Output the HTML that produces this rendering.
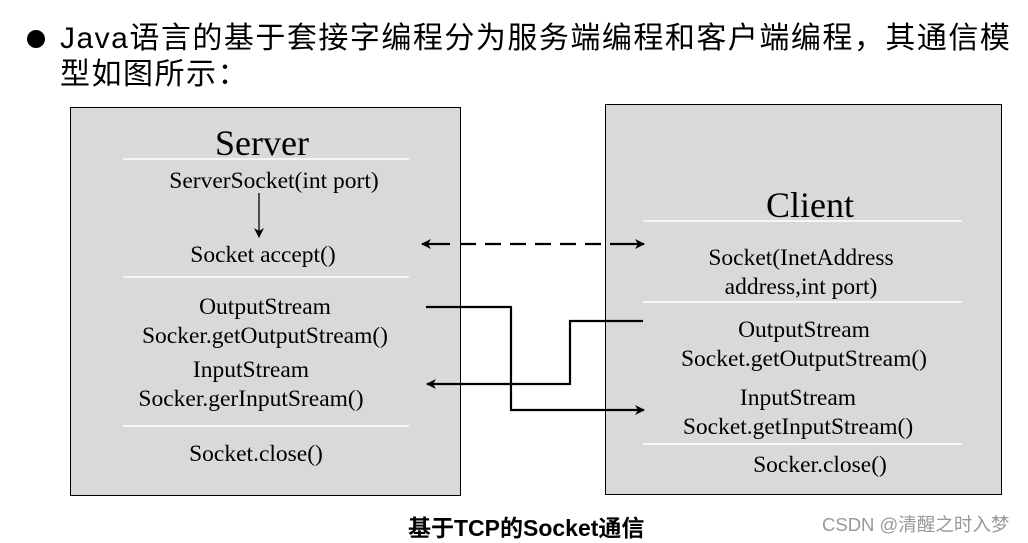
<!DOCTYPE html>
<html><head><meta charset="utf-8"><style>
body{margin:0;width:1028px;height:543px;background:#fff;position:relative;overflow:hidden}
.t{position:absolute;font-family:"Liberation Serif",serif;color:#000;white-space:nowrap;text-align:center;font-size:23.5px;line-height:29px}
</style></head><body>
<div style="position:absolute;left:27px;top:30px;width:18px;height:18px;border-radius:50%;background:#000"></div>
<div style="position:absolute;left:60px;top:21px;font-family:'Liberation Sans','Noto Sans CJK SC',sans-serif;font-size:30px;line-height:36px;letter-spacing:1.5px;color:#000;white-space:nowrap">Java语言的基于套接字编程分为服务端编程和客户端编程，其通信模<br>型如图所示：</div>
<svg width="1028" height="543" style="position:absolute;left:0;top:0">
<defs><marker id="a" markerWidth="10" markerHeight="10" refX="9" refY="5" orient="auto" markerUnits="userSpaceOnUse"><path d="M0,0 L10,5 L0,10 L3,5z" fill="#000"/></marker></defs>
<rect x="70.5" y="107.5" width="390" height="388" fill="#d9d9d9" stroke="#000" stroke-width="1"/>
<rect x="605.5" y="104.5" width="396" height="390" fill="#d9d9d9" stroke="#000" stroke-width="1"/>
<g stroke="#fff" stroke-width="1.5">
<line x1="123" y1="159" x2="409" y2="159"/><line x1="123" y1="277" x2="409" y2="277"/><line x1="123" y1="426" x2="409" y2="426"/>
<line x1="643" y1="221" x2="962" y2="221"/><line x1="643" y1="302" x2="962" y2="302"/><line x1="643" y1="444" x2="962" y2="444"/>
</g>
<g stroke="#000" stroke-width="2.2" fill="none">
<line x1="259" y1="193" x2="259" y2="237" stroke-width="1.3" marker-end="url(#a)"/>
<line x1="450" y1="244" x2="422" y2="244" marker-end="url(#a)"/>
<line x1="460" y1="244" x2="605" y2="244" stroke-dasharray="16,9"/>
<line x1="610" y1="244" x2="644" y2="244" marker-end="url(#a)"/>
<polyline points="426,307 511,307 511,410 644,410" marker-end="url(#a)"/>
<polyline points="643,321 570,321 570,384 427,384" marker-end="url(#a)"/>
</g>
</svg>
<div class="t" style="left:0;width:524px;top:123px;font-size:36px;line-height:40px">Server</div>
<div class="t" style="left:0;width:548px;top:167px">ServerSocket(int port)</div>
<div class="t" style="left:0;width:526px;top:241px">Socket accept()</div>
<div class="t" style="left:0;width:530px;top:293px">OutputStream<br>Socker.getOutputStream()</div>
<div class="t" style="left:0;width:502px;top:356px">InputStream<br>Socker.gerInputSream()</div>
<div class="t" style="left:0;width:512px;top:440px">Socket.close()</div>
<div class="t" style="left:0;width:1620px;top:185px;font-size:36px;line-height:40px">Client</div>
<div class="t" style="left:0;width:1602px;top:244px">Socket(InetAddress<br>address,int port)</div>
<div class="t" style="left:0;width:1608px;top:316px">OutputStream<br>Socket.getOutputStream()</div>
<div class="t" style="left:0;width:1596px;top:384px">InputStream<br>Socket.getInputStream()</div>
<div class="t" style="left:0;width:1640px;top:451px">Socker.close()</div>
<div style="position:absolute;left:408px;top:509px;font-family:'Liberation Sans','Noto Sans CJK SC',sans-serif;font-weight:bold;font-size:23px;white-space:nowrap">基于TCP的Socket通信</div>
<div style="position:absolute;left:822px;top:511px;font-family:'Liberation Sans','Noto Sans CJK SC',sans-serif;font-size:18.5px;color:#999;white-space:nowrap">CSDN @清醒之时入梦</div>
</body></html>
